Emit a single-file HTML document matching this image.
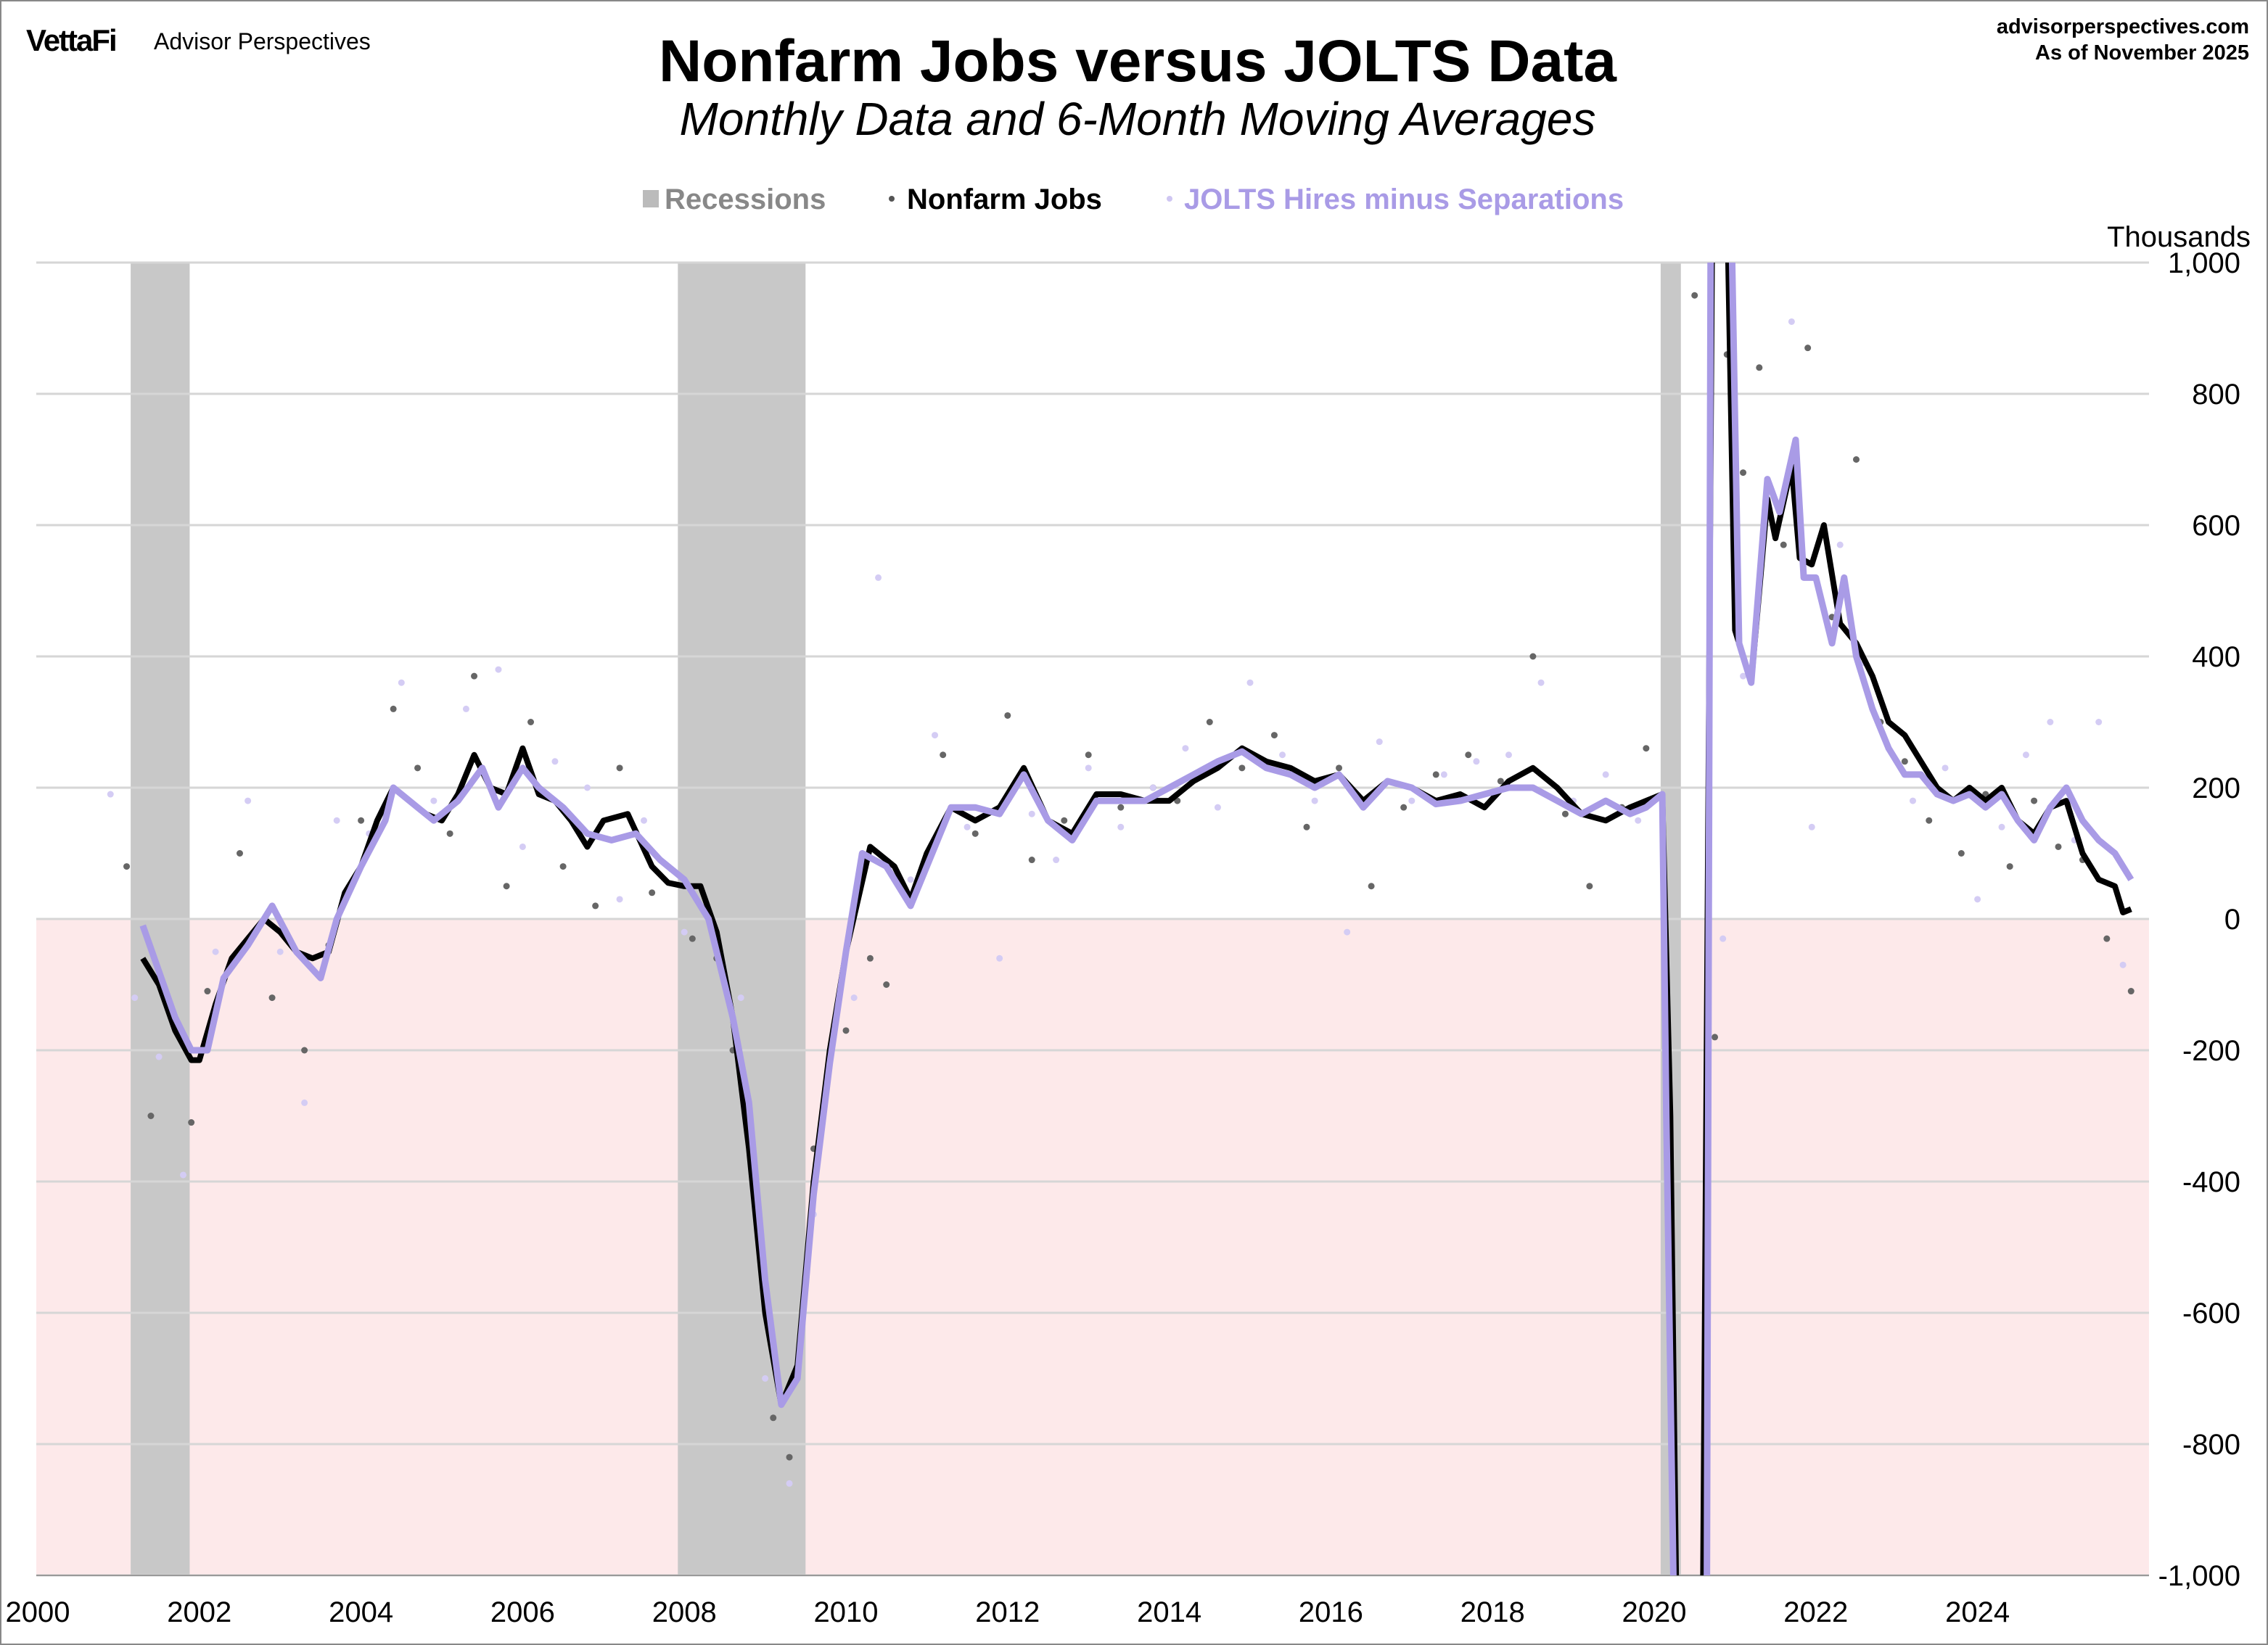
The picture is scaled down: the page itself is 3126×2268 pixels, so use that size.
<!DOCTYPE html>
<html><head><meta charset="utf-8"><style>
html,body{margin:0;padding:0;background:#fff}
svg{display:block;font-family:"Liberation Sans",Arial,sans-serif}
</style></head><body>
<svg id="chart" width="3126" height="2268" viewBox="0 0 3126 2268" xmlns="http://www.w3.org/2000/svg">
<rect x="1" y="1" width="3124" height="2266" fill="#fff" stroke="#888" stroke-width="2"/>
<text x="36" y="70" font-size="42" font-weight="bold" letter-spacing="-2">VettaFi</text>
<text x="212" y="68" font-size="32">Advisor Perspectives</text>
<text x="3100" y="46" font-size="29" font-weight="bold" text-anchor="end">advisorperspectives.com</text>
<text x="3100" y="82" font-size="29" font-weight="bold" text-anchor="end">As of November 2025</text>
<text x="1568" y="112" font-size="82" font-weight="bold" text-anchor="middle">Nonfarm Jobs versus JOLTS Data</text>
<text x="1568" y="186" font-size="64" font-style="italic" text-anchor="middle">Monthly Data and 6-Month Moving Averages</text>
<g>
<g><rect x="886" y="262" width="22" height="24" fill="#bbb"/><text x="916" y="288" font-size="40" font-weight="bold" fill="#888">Recessions</text></g>
<g><circle cx="1229" cy="274" r="4" fill="#555"/><text x="1250" y="288" font-size="40" font-weight="bold" fill="#000">Nonfarm Jobs</text></g>
<g><circle cx="1612" cy="274" r="4" fill="#cfc6f2"/><text x="1632" y="288" font-size="40" font-weight="bold" fill="#a99be6">JOLTS Hires minus Separations</text></g>
</g>
<text x="3102" y="340" font-size="40" text-anchor="end">Thousands</text>
<g id="plot"></g>
</svg>
<script>
const recStart=[2001.15,2007.92,2020.08];
const recEnd=[2001.88,2009.5,2020.33];
const yTicks=[1000,800,600,400,200,0,-200,-400,-600,-800,-1000];
const yTickLabels=["1,000","800","600","400","200","0","-200","-400","-600","-800","-1,000"];
const xTicks=[2000,2002,2004,2006,2008,2010,2012,2014,2016,2018,2020,2022,2024];
const nfT=[2001.3,2001.5,2001.7,2001.9,2002.0,2002.2,2002.4,2002.6,2002.8,2003.0,2003.2,2003.4,2003.6,2003.8,2004.0,2004.2,2004.4,2004.6,2004.8,2005.0,2005.2,2005.4,2005.6,2005.8,2006.0,2006.2,2006.4,2006.6,2006.8,2007.0,2007.3,2007.6,2007.8,2008.0,2008.2,2008.4,2008.6,2008.8,2009.0,2009.2,2009.4,2009.6,2009.8,2010.0,2010.3,2010.6,2010.8,2011.0,2011.3,2011.6,2011.9,2012.2,2012.5,2012.8,2013.1,2013.4,2013.7,2014.0,2014.3,2014.6,2014.9,2015.2,2015.5,2015.8,2016.1,2016.4,2016.7,2017.0,2017.3,2017.6,2017.9,2018.2,2018.5,2018.8,2019.1,2019.4,2019.7,2019.9,2020.1,2020.2,2020.28,2020.6,2020.72,2020.9,2021.0,2021.2,2021.4,2021.5,2021.7,2021.8,2021.95,2022.1,2022.3,2022.5,2022.7,2022.9,2023.1,2023.3,2023.5,2023.7,2023.9,2024.1,2024.3,2024.5,2024.7,2024.9,2025.1,2025.3,2025.5,2025.7,2025.8,2025.9];
const nfV=[-60,-100,-170,-215,-215,-130,-60,-30,0,-20,-50,-60,-50,40,80,150,200,180,160,150,190,250,200,190,260,190,180,150,110,150,160,80,55,50,50,-20,-150,-350,-600,-740,-680,-400,-200,-50,110,80,30,100,170,150,170,230,150,130,190,190,180,180,210,230,260,240,230,210,220,180,210,200,180,190,170,210,230,200,160,150,170,180,190,-300,-1100,-1100,1100,1100,440,360,640,580,690,550,540,600,450,420,370,300,280,240,200,180,200,180,200,150,130,170,180,100,60,50,10,15];
const jtT=[2001.3,2001.5,2001.7,2001.9,2002.1,2002.3,2002.6,2002.9,2003.2,2003.5,2003.7,2004.0,2004.3,2004.4,2004.7,2004.9,2005.2,2005.5,2005.7,2006.0,2006.2,2006.5,2006.8,2007.1,2007.4,2007.7,2008.0,2008.3,2008.6,2008.8,2009.0,2009.2,2009.4,2009.6,2009.8,2010.0,2010.2,2010.5,2010.8,2011.0,2011.3,2011.6,2011.9,2012.2,2012.5,2012.8,2013.1,2013.4,2013.7,2014.0,2014.3,2014.6,2014.9,2015.2,2015.5,2015.8,2016.1,2016.4,2016.7,2017.0,2017.3,2017.6,2017.9,2018.2,2018.5,2018.8,2019.1,2019.4,2019.7,2019.9,2020.1,2020.15,2020.25,2020.65,2020.7,2020.95,2021.05,2021.2,2021.4,2021.55,2021.75,2021.85,2022.0,2022.2,2022.35,2022.5,2022.7,2022.9,2023.1,2023.3,2023.5,2023.7,2023.9,2024.1,2024.3,2024.5,2024.7,2024.9,2025.1,2025.3,2025.5,2025.7,2025.9];
const jtV=[-10,-80,-150,-200,-200,-90,-40,20,-50,-90,0,80,150,200,170,150,180,230,170,230,200,170,130,120,130,90,60,0,-150,-280,-550,-740,-700,-420,-220,-50,100,80,20,80,170,170,160,220,150,120,180,180,180,200,220,240,255,230,220,200,220,170,210,200,175,180,190,200,200,180,160,180,160,170,190,-300,-1100,-1100,1100,1100,420,360,670,620,730,520,520,420,520,400,320,260,220,220,190,180,190,170,190,150,120,170,200,150,120,100,60];
const nfDotT=[2001.1,2001.4,2001.6,2001.9,2002.1,2002.5,2002.9,2003.3,2003.6,2004.0,2004.4,2004.7,2005.1,2005.4,2005.8,2006.1,2006.5,2006.9,2007.2,2007.6,2008.1,2008.4,2008.6,2008.9,2009.1,2009.3,2009.6,2010.0,2010.3,2010.5,2010.9,2011.2,2011.6,2012.0,2012.3,2012.7,2013.0,2013.4,2013.8,2014.1,2014.5,2014.9,2015.3,2015.7,2016.1,2016.5,2016.9,2017.3,2017.7,2018.1,2018.5,2018.9,2019.2,2019.6,2019.9,2020.5,2020.75,2020.9,2021.1,2021.3,2021.6,2021.9,2022.2,2022.5,2022.8,2023.1,2023.4,2023.8,2024.1,2024.4,2024.7,2025.0,2025.3,2025.6,2025.9];
const nfDotV=[80,-300,-120,-310,-110,100,-120,-200,-40,150,320,230,130,370,50,300,80,20,230,40,-30,-60,-200,-460,-760,-820,-350,-170,-60,-100,60,250,130,310,90,150,250,170,200,180,300,230,280,140,230,50,170,220,250,210,400,160,50,170,260,950,-180,860,680,840,570,870,460,700,300,240,150,100,190,80,180,110,90,-30,-110];
const jtDotT=[2000.9,2001.2,2001.5,2001.8,2002.2,2002.6,2003.0,2003.3,2003.7,2004.1,2004.5,2004.9,2005.3,2005.7,2006.0,2006.4,2006.8,2007.2,2007.5,2008.0,2008.4,2008.7,2009.0,2009.3,2009.6,2010.1,2010.4,2010.8,2011.1,2011.5,2011.9,2012.3,2012.6,2013.0,2013.4,2013.8,2014.2,2014.6,2015.0,2015.4,2015.8,2016.2,2016.6,2017.0,2017.4,2017.8,2018.2,2018.6,2019.0,2019.4,2019.8,2020.7,2020.85,2021.1,2021.4,2021.7,2021.95,2022.3,2022.6,2022.9,2023.2,2023.6,2024.0,2024.3,2024.6,2024.9,2025.2,2025.5,2025.8];
const jtDotV=[190,-120,-210,-390,-50,180,-50,-280,150,130,360,180,320,380,110,240,200,30,150,-20,-50,-120,-700,-860,-450,-120,520,60,280,140,-60,160,90,230,140,200,260,170,360,250,180,-20,270,180,220,240,250,360,180,220,150,840,-30,370,670,910,140,570,390,260,180,230,30,140,250,300,120,300,-70];
function X(t){return 52+(t-2000)*111.4;}
function Y(v){return 1267-v*0.905;}
const NS="http://www.w3.org/2000/svg";
const plot=document.getElementById('plot');
function mk(tag,attrs,parent){const e=document.createElementNS(NS,tag);for(const k in attrs)e.setAttribute(k,attrs[k]);(parent||plot).appendChild(e);return e;}
const L=50,R=2962,T=Y(1000),B=Y(-1000);
const clip=mk('clipPath',{id:'pc'});mk('rect',{x:L,y:T,width:R-L,height:B-T},clip);
const neg=mk('rect',{x:L,y:Y(0),width:R-L,height:B-Y(0),fill:'#fde9ea'});


for(let i=0;i<recStart.length;i++){
  const r=mk('rect',{x:X(recStart[i]),y:T,width:X(recEnd[i])-X(recStart[i]),height:B-T,fill:'#c8c8c8'});
  
  
}
for(let i=0;i<yTicks.length;i++){
  const y=Y(yTicks[i]);
  const g=mk('line',{x1:L,x2:R,y1:y,y2:y,stroke:'#d6d6d6','stroke-width':3});
  
  
  const t=mk('text',{x:3088,y:y+14,'font-size':40,'text-anchor':'end'});
  t.textContent=yTickLabels[i];
  
  
}
const ax=mk('line',{x1:L,x2:R,y1:B,y2:B,stroke:'#999','stroke-width':2});


for(const xt of xTicks){
  const t=mk('text',{x:X(xt),y:2236,'font-size':40,'text-anchor':'middle'});
  t.textContent=String(xt);
  
  
}
const gd=mk('g',{'clip-path':'url(#pc)'});
for(let i=0;i<nfDotT.length;i++){
  const c=mk('circle',{cx:X(nfDotT[i]),cy:Y(nfDotV[i]),r:4.5,fill:'#666'},gd);
  
  
}
for(let i=0;i<jtDotT.length;i++){
  const c=mk('circle',{cx:X(jtDotT[i]),cy:Y(jtDotV[i]),r:4.5,fill:'#d4ccf4'},gd);
  
  
}
function pts(t,v){return t.map((x,i)=>X(x).toFixed(1)+','+Y(v[i]).toFixed(1)).join(' ');}
const nl=mk('polyline',{points:pts(nfT,nfV),fill:'none',stroke:'#000','stroke-width':8,'stroke-linejoin':'round'},gd);


const jl=mk('polyline',{points:pts(jtT,jtV),fill:'none',stroke:'#a99be6','stroke-width':9,'stroke-linejoin':'round'},gd);


</script>
</body></html>
